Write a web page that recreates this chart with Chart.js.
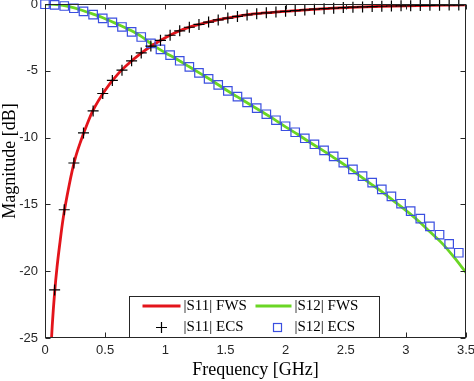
<!DOCTYPE html>
<html>
<head>
<meta charset="utf-8">
<script src="https://cdn.jsdelivr.net/npm/chart.js@4.4.1/dist/chart.umd.min.js"></script>
<style>
  html, body { margin: 0; padding: 0; background: #fff; }
  #wrap { width: 474px; height: 381px; }
</style>
</head>
<body>
<div id="wrap"><canvas id="chartCanvas" width="474" height="381"></canvas></div>
<script>
// |S11| full-wave simulation
const freqS11Fws = [0.04, 0.05, 0.06, 0.08, 0.1, 0.125, 0.15, 0.2, 0.25, 0.3, 0.35, 0.4, 0.5, 0.6, 0.7, 0.8, 0.9, 1.0, 1.1, 1.2, 1.3, 1.4, 1.5, 1.6, 1.7, 1.8, 1.9, 2.0, 2.2, 2.4, 2.6, 2.8, 3.0, 3.2, 3.4, 3.5];
const s11Fws = [-27.6, -25.7, -24.1, -21.6, -19.7, -17.8, -16.1, -13.6, -11.6, -10.2, -9.0, -7.95, -6.45, -5.3, -4.42, -3.68, -3.05, -2.52, -2.08, -1.73, -1.48, -1.26, -1.08, -0.92, -0.78, -0.69, -0.62, -0.55, -0.42, -0.31, -0.23, -0.17, -0.13, -0.1, -0.08, -0.07];

// |S12| full-wave simulation
const freqS12Fws = [0, 0.1, 0.2, 0.3, 0.4, 0.5, 0.6, 0.7, 0.8, 0.9, 1.0, 1.1, 1.2, 1.3, 1.4, 1.5, 1.6, 1.7, 1.8, 1.9, 2.0, 2.1, 2.2, 2.3, 2.4, 2.5, 2.6, 2.7, 2.8, 2.9, 3.0, 3.1, 3.2, 3.3, 3.4, 3.5];
const s12Fws = [0, -0.05, -0.2, -0.45, -0.76, -1.1, -1.5, -1.92, -2.42, -3.1, -3.65, -4.15, -4.7, -5.25, -5.8, -6.4, -6.95, -7.5, -8.05, -8.6, -9.2, -9.75, -10.35, -10.9, -11.5, -12.1, -12.75, -13.4, -14.05, -14.75, -15.45, -16.2, -17.05, -17.9, -18.95, -20.1];

// equivalent circuit simulation, sampled points
const freqEcs = [0, 0.08, 0.16, 0.24, 0.32, 0.4, 0.48, 0.56, 0.64, 0.72, 0.8, 0.88, 0.96, 1.04, 1.12, 1.2, 1.28, 1.36, 1.44, 1.52, 1.6, 1.68, 1.76, 1.84, 1.92, 2.0, 2.08, 2.16, 2.24, 2.32, 2.4, 2.48, 2.56, 2.64, 2.72, 2.8, 2.88, 2.96, 3.04, 3.12, 3.2, 3.28, 3.36, 3.44];
const s11Ecs = [null, -21.4, -15.4, -11.9, -9.65, -8.0, -6.7, -5.72, -4.95, -4.25, -3.66, -3.15, -2.72, -2.34, -2.01, -1.74, -1.53, -1.35, -1.19, -1.05, -0.93, -0.82, -0.73, -0.66, -0.6, -0.55, -0.49, -0.44, -0.39, -0.35, -0.31, -0.27, -0.24, -0.22, -0.19, -0.17, -0.15, -0.14, -0.13, -0.11, -0.1, -0.09, -0.08, -0.08];
const s12Ecs = [-0.02, -0.07, -0.15, -0.32, -0.55, -0.8, -1.08, -1.38, -1.72, -2.08, -2.47, -2.95, -3.4, -3.83, -4.25, -4.7, -5.15, -5.6, -6.05, -6.5, -6.93, -7.37, -7.8, -8.25, -8.7, -9.15, -9.6, -10.05, -10.5, -10.95, -11.4, -11.88, -12.38, -12.88, -13.37, -13.88, -14.4, -14.95, -15.5, -16.07, -16.65, -17.27, -17.95, -18.62];

const xTicks = [0, 0.5, 1, 1.5, 2, 2.5, 3, 3.5];
const yTicks = [0, -5, -10, -15, -20, -25];
const yTitle = "Magnitude [dB]";

const RED = "#e3141b";
const GREEN = "#6ad624";
const BLUE = "#3b4fe0";
const AXIS = "#262626";
const SERIF = "'Liberation Serif', 'Times New Roman', serif";

function pts(xs, ys) {
    return xs.map((x, i) => ({ x: x, y: ys[i] }));
}

// MATLAB style box with inward ticks on all four sides, plus y label
const boxTicks = {
    id: "boxTicks",
    afterDraw(chart) {
        const ctx = chart.ctx;
        const a = chart.chartArea;
        const xs = chart.scales.x;
        const ys = chart.scales.y;
        const L = Math.round(a.left) + 0.5, R = Math.round(a.right) - 0.5;
        const T = Math.round(a.top) + 0.5, B = Math.round(a.bottom) - 0.5;
        ctx.save();
        ctx.strokeStyle = AXIS;
        ctx.lineWidth = 1;
        ctx.strokeRect(L, T, R - L, B - T);
        ctx.beginPath();
        xTicks.forEach(v => {
            const px = Math.round(xs.getPixelForValue(v)) + 0.5;
            ctx.moveTo(px, B); ctx.lineTo(px, B - 5);
            ctx.moveTo(px, T); ctx.lineTo(px, T + 5);
        });
        yTicks.forEach(v => {
            const py = Math.round(ys.getPixelForValue(v)) + 0.5;
            ctx.moveTo(L, py); ctx.lineTo(L + 5, py);
            ctx.moveTo(R, py); ctx.lineTo(R - 5, py);
        });
        ctx.stroke();

        // y label sits a bit above the axis middle in the original
        ctx.translate(10, (a.top + a.bottom) / 2 - 10);
        ctx.rotate(-Math.PI / 2);
        ctx.fillStyle = "#000";
        ctx.font = "18px " + SERIF;
        ctx.textAlign = "center";
        ctx.textBaseline = "middle";
        ctx.fillText(yTitle, 0, 0);
        ctx.restore();
    }
};

// 2x2 legend box sitting on the bottom axis
const boxLegend = {
    id: "boxLegend",
    afterDraw(chart) {
        const ctx = chart.ctx;
        const a = chart.chartArea;
        const ds = chart.data.datasets;
        const left = Math.round(a.left) + 84.5;
        const top = Math.round(a.bottom) - 41.5;
        const w = 250, h = 41;
        ctx.save();
        ctx.fillStyle = "#fff";
        ctx.fillRect(left, top, w, h);
        ctx.strokeStyle = AXIS;
        ctx.lineWidth = 1;
        ctx.strokeRect(left, top, w, h);

        const row1 = top + 9.5, row2 = top + 31;
        ctx.lineWidth = 2.8;
        ctx.strokeStyle = RED;
        ctx.beginPath(); ctx.moveTo(left + 13, row1); ctx.lineTo(left + 51, row1); ctx.stroke();
        ctx.strokeStyle = GREEN;
        ctx.beginPath(); ctx.moveTo(left + 126, row1); ctx.lineTo(left + 162, row1); ctx.stroke();

        ctx.lineWidth = 1.2;
        ctx.strokeStyle = "#000";
        const cx = left + 32;
        ctx.beginPath();
        ctx.moveTo(cx - 5.5, row2); ctx.lineTo(cx + 5.5, row2);
        ctx.moveTo(cx, row2 - 5.5); ctx.lineTo(cx, row2 + 5.5);
        ctx.stroke();
        ctx.strokeStyle = BLUE;
        ctx.strokeRect(left + 144, row2 - 4, 8, 8);

        ctx.fillStyle = "#000";
        ctx.font = "15px " + SERIF;
        ctx.textBaseline = "middle";
        ctx.fillText(ds[0].label, left + 54, row1);
        ctx.fillText(ds[1].label, left + 165, row1);
        ctx.fillText(ds[2].label, left + 54, row2);
        ctx.fillText(ds[3].label, left + 165, row2);
        ctx.restore();
    }
};

const ctx = document.getElementById("chartCanvas").getContext("2d");

new Chart(ctx, {
    type: "line",
    data: {
        datasets: [
            {
                label: "|S11| FWS",
                data: pts(freqS11Fws, s11Fws),
                borderColor: RED,
                borderWidth: 2.8,
                pointRadius: 0,
                cubicInterpolationMode: "monotone",
                order: 3
            },
            {
                label: "|S12| FWS",
                data: pts(freqS12Fws, s12Fws),
                borderColor: GREEN,
                borderWidth: 2.8,
                pointRadius: 0,
                cubicInterpolationMode: "monotone",
                order: 3
            },
            {
                label: "|S11| ECS",
                data: pts(freqEcs, s11Ecs),
                showLine: false,
                clip: false,
                pointStyle: "cross",
                pointRadius: 5.5,
                pointBorderColor: "#000",
                pointBorderWidth: 1.2,
                order: 1
            },
            {
                label: "|S12| ECS",
                data: pts(freqEcs, s12Ecs),
                showLine: false,
                clip: false,
                pointStyle: "rect",
                pointRadius: 6,
                pointBorderColor: BLUE,
                pointBackgroundColor: "rgba(0,0,0,0)",
                pointBorderWidth: 1.2,
                order: 2
            }
        ]
    },
    options: {
        responsive: false,
        animation: false,
        layout: { autoPadding: false, padding: { top: 4, right: 8, left: 0, bottom: 0 } },
        plugins: {
            legend: { display: false },
            tooltip: { enabled: false }
        },
        scales: {
            x: {
                type: "linear",
                min: 0,
                max: 3.5,
                afterFit: s => { s.height = 43; s.paddingLeft = 0; s.paddingRight = 0; },
                afterBuildTicks: s => { s.ticks = xTicks.map(v => ({ value: v })); },
                grid: { display: false, drawTicks: false },
                border: { display: false },
                ticks: {
                    padding: 5,
                    color: AXIS,
                    font: { family: "'Liberation Sans', Arial, sans-serif", size: 13 },
                    callback: v => String(v)
                },
                title: {
                    display: true,
                    text: "Frequency [GHz]",
                    color: "#000",
                    padding: 0,
                    font: { family: SERIF, size: 18 }
                }
            },
            y: {
                min: -25,
                max: 0,
                afterFit: s => { s.width = 45; s.paddingTop = 0; s.paddingBottom = 0; },
                afterBuildTicks: s => { s.ticks = yTicks.map(v => ({ value: v })); },
                grid: { display: false, drawTicks: false },
                border: { display: false },
                ticks: {
                    padding: 7,
                    color: AXIS,
                    font: { family: "'Liberation Sans', Arial, sans-serif", size: 13 },
                    callback: v => String(v)
                }
            }
        }
    },
    plugins: [boxTicks, boxLegend]
});
</script>
</body>
</html>
